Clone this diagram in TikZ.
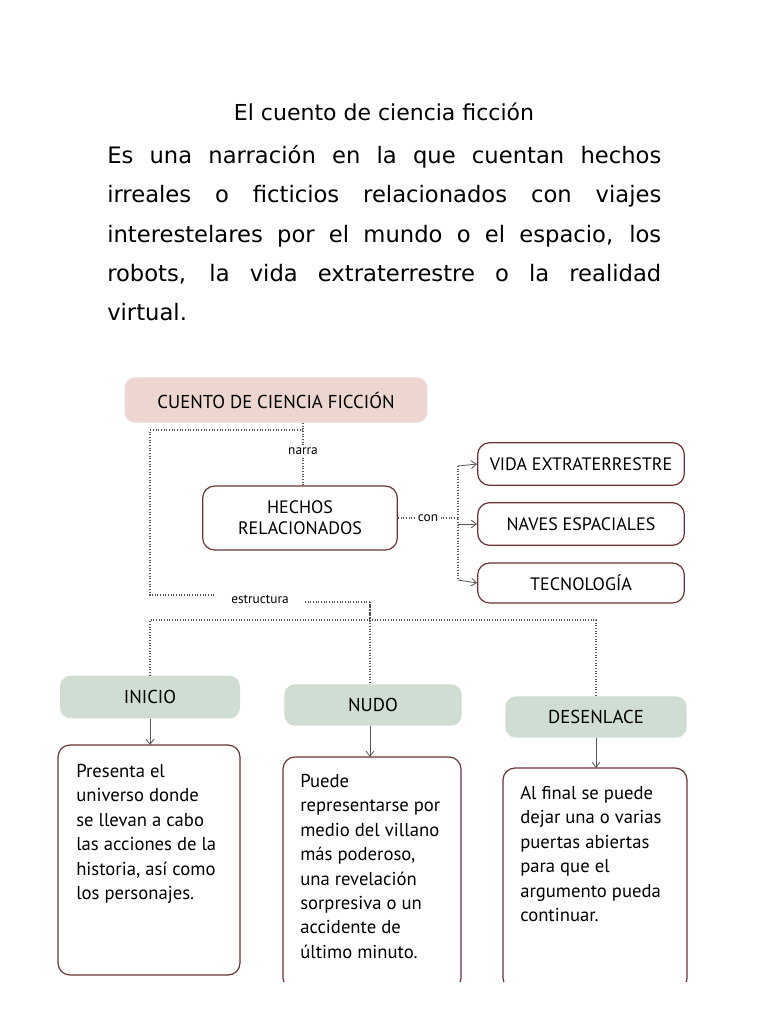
\documentclass[tikz,border=0pt]{standalone}
\usepackage{fontspec}
\setmainfont{PT Sans}
\newfontfamily\headfont{DejaVu Sans}
\usetikzlibrary{arrows.meta}
\definecolor{pinkf}{HTML}{EDD6CF}
\definecolor{greenf}{HTML}{CFDDD3}
\definecolor{bord}{HTML}{6E3434}
\definecolor{dots}{HTML}{555555}
\tikzset{
  px/.style={x=0.75pt,y=-0.75pt},
  dl/.style={draw=dots,line width=0.9pt,dash pattern=on 0.6pt off 1.4pt},
  ar/.style={draw=dots,line width=0.6pt,-{Straight Barb[length=4pt,width=6pt]}},
  rbox/.style={draw=bord,line width=0.9pt,rounded corners=9pt,inner sep=0pt},
  head/.style={rounded corners=8pt,inner sep=0pt,font=\fontsize{14}{16}\selectfont},
  lbl/.style={font=\fontsize{10}{12}\selectfont,inner sep=2pt,fill=white},
  bt/.style={font=\fontsize{13.5}{16}\selectfont},
  body/.style={align=left,font=\fontsize{14}{18.3}\selectfont,anchor=north west,inner sep=0pt}
}
\begin{document}
\begin{tikzpicture}[px]
\useasboundingbox (0,0) rectangle (768,1024);
\fill[white] (0,0) rectangle (768,1024);
\node[font=\headfont\fontsize{16.5}{18}\selectfont] (title) at (384,112) {El cuento de ciencia ficción};
\node[anchor=north west,inner sep=0pt,text width=415.5pt,align=justify,font=\headfont\fontsize{17}{29.5}\selectfont] (para) at (107,145)
 {Es una narración en la que cuentan hechos\linebreak irreales o ficticios relacionados con viajes\linebreak interestelares por el mundo o el espacio, los\linebreak robots, la vida extraterrestre o la realidad\linebreak virtual.};
% top
\node[head,fill=pinkf,minimum width=227pt,minimum height=34pt] (cuento) at (276,400) {CUENTO DE CIENCIA FICCIÓN};
\node[rbox,minimum width=146pt,minimum height=48pt,align=center,bt] (hechos) at (300,518) {HECHOS\\RELACIONADOS};
\node[rbox,minimum width=155pt,minimum height=32pt,bt] (vida) at (581,464) {VIDA EXTRATERRESTRE};
\node[rbox,minimum width=155pt,minimum height=32pt,bt] (naves) at (581,524) {NAVES ESPACIALES};
\node[rbox,minimum width=155pt,minimum height=30pt,bt] (tec) at (581,583) {TECNOLOGÍA};
\coordinate (c1) at (303,430);
\coordinate (c2) at (150,430);
\coordinate (c3) at (150,595);
\coordinate (c4) at (370,602);
\coordinate (c5) at (458,466);
\coordinate (c6) at (458,580);
\draw[dl] (cuento.south -| c1) -- (hechos.north -| c1) node[lbl,pos=0.45] (narra) {narra};
\draw[dl] (c1) -- (c2) -- (c3) -- (215,595);
\node[lbl] (estr) at (260,599) {estructura};
\draw[dl] (305,602) -- (c4) -- (370,620);
\draw[dl] (hechos.east) -- (c5 |- hechos.east) node[lbl,midway] (con) {con};
\draw[dl] (c5) -- (c6);
\draw[ar] (c5) -- (vida.west);
\draw[ar] (c5 |- naves.west) -- (naves.west);
\draw[ar] (c6) -- (tec.west);
% bottom
\node[head,fill=greenf,minimum width=135pt,minimum height=32pt] (inicio) at (150,697) {INICIO};
\node[head,fill=greenf,minimum width=133pt,minimum height=31pt] (nudo) at (373,705) {NUDO};
\node[head,fill=greenf,minimum width=136pt,minimum height=31pt] (desen) at (596,717) {DESENLACE};
\coordinate (h1) at (150,620);
\coordinate (h2) at (596,620);
\draw[dl] (inicio.north) -- (h1) -- (h2) -- (desen.north);
\draw[dl] (c4) -- (370,620) -- (nudo.north -| 370,0);
\draw[rbox] (58,745) rectangle (240,975);
\draw[rbox] (283,757) rectangle (461,990);
\draw[rbox] (503,768) rectangle (687,990);
\node[body] (t1) at (76,764) {Presenta el\\universo donde\\se llevan a cabo\\las acciones de la\\historia, así como\\los personajes.};
\node[body] (t2) at (300,774) {Puede\\representarse por\\medio del villano\\más poderoso,\\una revelación\\sorpresiva o un\\accidente de\\último minuto.};
\node[body] (t3) at (520,786) {Al final se puede\\dejar una o varias\\puertas abiertas\\para que el\\argumento pueda\\continuar.};
\coordinate (a1) at (150,745);
\coordinate (a2) at (370,757);
\coordinate (a3) at (596,768);
\draw[ar] (inicio.south) -- (a1);
\draw[ar] (nudo.south -| a2) -- (a2);
\draw[ar] (desen.south) -- (a3);
\fill[white] (0,982) rectangle (768,1024);
\end{tikzpicture}
\end{document}
